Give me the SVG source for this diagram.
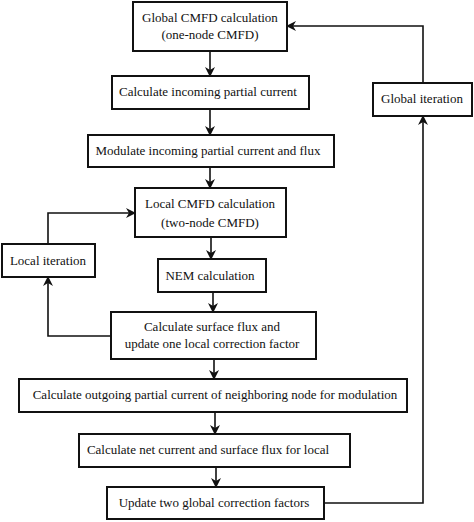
<svg xmlns="http://www.w3.org/2000/svg" width="474" height="522" viewBox="0 0 474 522">
<style>
.b{fill:#fff;stroke:#111;stroke-width:2}
.t{font-family:"Liberation Serif","Times New Roman",serif;font-size:13px;fill:#111;text-anchor:middle}
.c{fill:none;stroke:#111;stroke-width:1.6}
</style>
<defs>
<marker id="a" viewBox="0 0 10 10" refX="9" refY="5" markerWidth="10" markerHeight="10" markerUnits="userSpaceOnUse" orient="auto">
<path d="M0,0 L10,5 L0,10 L3,5 Z" fill="#111"/>
</marker>
</defs>
<rect width="474" height="522" fill="#fff"/>
<g id="connectors">
<line class="c" x1="210" y1="51" x2="210" y2="76" marker-end="url(#a)"/>
<line class="c" x1="210" y1="109" x2="210" y2="135" marker-end="url(#a)"/>
<line class="c" x1="210" y1="167" x2="210" y2="188" marker-end="url(#a)"/>
<line class="c" x1="211" y1="237" x2="211" y2="259" marker-end="url(#a)"/>
<line class="c" x1="213" y1="292" x2="213" y2="312" marker-end="url(#a)"/>
<line class="c" x1="214" y1="359" x2="214" y2="379" marker-end="url(#a)"/>
<line class="c" x1="215" y1="412" x2="215" y2="434" marker-end="url(#a)"/>
<line class="c" x1="216" y1="467" x2="216" y2="487" marker-end="url(#a)"/>
<polyline class="c" points="111,336 48,336 48,277" marker-end="url(#a)"/>
<polyline class="c" points="48,244 48,213 135,213" marker-end="url(#a)"/>
<polyline class="c" points="324,503 423,503 423,116" marker-end="url(#a)"/>
<polyline class="c" points="423,83 423,26 287,26" marker-end="url(#a)"/>
</g>
<g id="n1"><rect class="b" x="133" y="2" width="154" height="49"/><text class="t" x="210" y="22">Global CMFD calculation</text><text class="t" x="210" y="39">(one-node CMFD)</text></g>
<g id="n2"><rect class="b" x="112" y="76" width="197" height="33"/><text class="t" x="208" y="96">Calculate incoming partial current</text></g>
<g id="n3"><rect class="b" x="88" y="135" width="246" height="32"/><text class="t" x="208" y="155">Modulate incoming partial current and flux</text></g>
<g id="n4"><rect class="b" x="135" y="188" width="151" height="49"/><text class="t" x="210" y="208">Local CMFD calculation</text><text class="t" x="210" y="227">(two-node CMFD)</text></g>
<g id="n5"><rect class="b" x="158" y="259" width="108" height="33"/><text class="t" x="210" y="280">NEM calculation</text></g>
<g id="n6"><rect class="b" x="111" y="312" width="205" height="47"/><text class="t" x="212" y="331">Calculate surface flux and</text><text class="t" x="212" y="348">update one local correction factor</text></g>
<g id="n7"><rect class="b" x="19" y="379" width="388" height="33"/><text class="t" x="215" y="399">Calculate outgoing partial current  of neighboring node for modulation</text></g>
<g id="n8"><rect class="b" x="79" y="434" width="271" height="33"/><text class="t" x="208" y="454">Calculate net current and surface flux for local</text></g>
<g id="n9"><rect class="b" x="107" y="487" width="217" height="32"/><text class="t" x="214" y="507">Update two global correction  factors</text></g>
<g id="n10"><rect class="b" x="2" y="244" width="93" height="33"/><text class="t" x="48" y="265">Local iteration</text></g>
<g id="n11"><rect class="b" x="373" y="83" width="99" height="33"/><text class="t" x="422" y="103">Global iteration</text></g>
</svg>
